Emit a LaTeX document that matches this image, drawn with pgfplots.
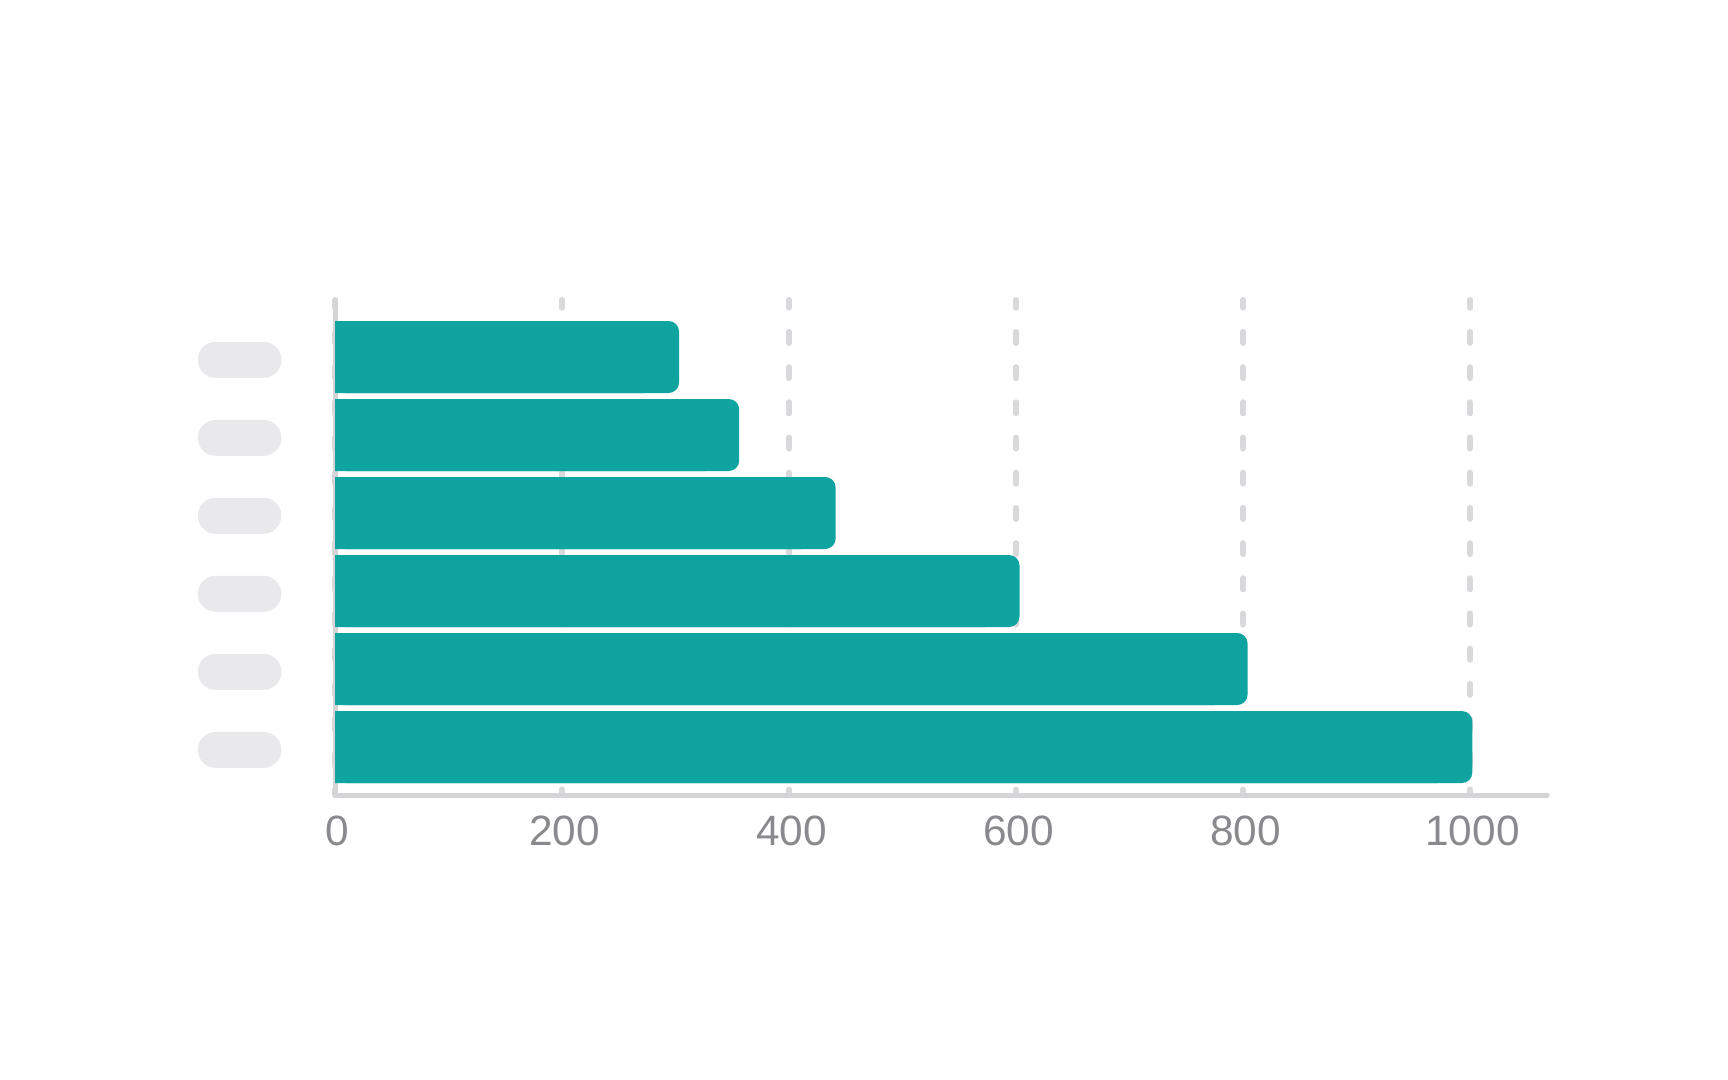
\documentclass[border=0pt]{standalone}
\usepackage{fontspec}
\setmainfont{Liberation Sans}
\usepackage{pgfplots}
\pgfplotsset{compat=1.18}
\usepackage{pgfplotstable}
\definecolor{barteal}{HTML}{0FA49F}
\definecolor{gridgray}{HTML}{D9D9DB}
\definecolor{axisgray}{HTML}{D5D5D7}
\definecolor{pillgray}{HTML}{E9E9EB}
\definecolor{ticktext}{HTML}{8A8A8E}
\pgfplotstableread{
idx val
0 1002
1 804
2 603
3 441
4 356
5 303
}\bardata
\begin{document}
\begin{tikzpicture}
\path[fill=white] (0,0) rectangle (432bp,-270bp);
\begin{axis}[
  at={(83.8bp,-198.75bp)}, anchor=south west,
  scale only axis, width=303bp, height=123.75bp,
  xmin=0, xmax=1068, ymin=-0.615, ymax=5.731,
  axis x line=bottom, axis y line=left,
  axis line style={-, draw=axisgray, line width=1.25bp, line cap=round},
  xtick={0,200,400,600,800,1000}, ytick={0,1,2,3,4,5},
  yticklabel={\phantom{0}},
  yticklabel style={fill=pillgray, rounded corners=4.5bp, minimum width=20.9bp, minimum height=9bp, inner sep=0pt, anchor=east, xshift=-13.25bp, yshift=-0.7bp},
  xticklabel style={font=\fontsize{10.6bp}{12bp}\selectfont, text=ticktext, anchor=base, yshift=-12.5bp, xshift=0.6bp},
  /pgf/number format/assume math mode=true,
  /pgf/number format/1000 sep={},
  tick style={draw=none}, major tick length=0pt,
  xmajorgrids,
  major grid style={draw=gridgray, line width=1.5bp, line cap=round, dash pattern=on 2.75bp off 6.05bp, dash phase=1.375bp},
  clip=false,
]
\addplot[xbar, bar width=18bp, bar shift=0pt, fill=barteal, draw=none, rounded corners=2.6bp] table[x=val, y=idx] {\bardata};
\addplot[xbar, bar width=18bp, bar shift=0pt, fill=barteal, draw=none] table[x expr=\thisrow{val}-30, y=idx] {\bardata};
\end{axis}
\end{tikzpicture}
\end{document}
